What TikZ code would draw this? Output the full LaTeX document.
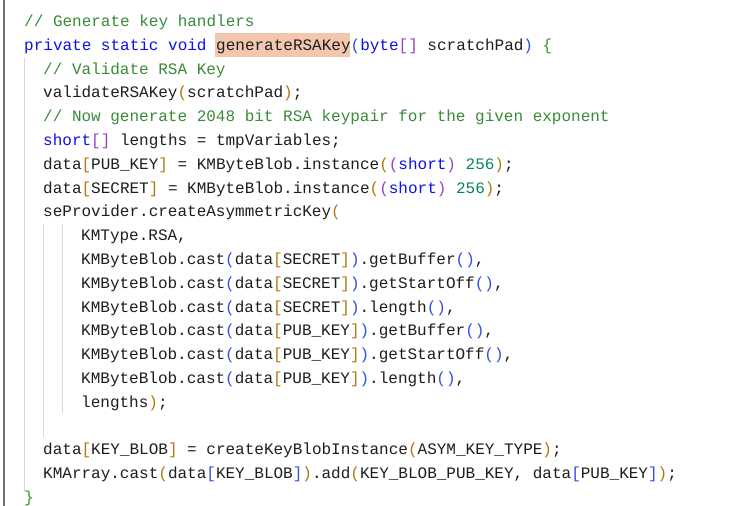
\documentclass[tikz,border=0pt]{standalone}
\usepackage{fontspec}
\setmonofont{Liberation Mono}
\definecolor{cm}{HTML}{3A8A3A}
\definecolor{kw}{HTML}{1010E8}
\definecolor{num}{HTML}{098658}
\definecolor{gold}{HTML}{B07A10}
\definecolor{pur}{HTML}{A040C0}
\definecolor{blu}{HTML}{3050E8}
\definecolor{grn}{HTML}{319331}
\definecolor{txt}{HTML}{1E1E1E}
\definecolor{hl}{HTML}{F3C6AE}
\newcommand\Bgo[1]{\textcolor{gold}{#1}}
\newcommand\Bpu[1]{\textcolor{pur}{#1}}
\newcommand\Bbl[1]{\textcolor{blu}{#1}}
\newcommand\Bgr[1]{\textcolor{grn}{#1}}
\newcommand\Kw[1]{\textcolor{kw}{#1}}
\newcommand\Nm[1]{\textcolor{num}{#1}}
\begin{document}
\begin{tikzpicture}[x=1pt,y=-1pt,
  code/.style={anchor=base west,inner sep=0pt,font=\ttfamily\fontsize{16}{16}\selectfont,text=txt},
  guide/.style={draw=black!15,line width=0.8pt}]
\fill[white] (0,0) rectangle (734,506);
\useasboundingbox (0,0) rectangle (734,506);
\draw[black!55,line width=1.2pt] (4,0) -- (4,506);
\fill[hl] (215,33) rectangle (350,57);
\draw[guide] (24,58) -- (24,492);
\draw[guide] (43,224) -- (43,437);
\draw[guide] (62,224) -- (62,413);
\def\L{26.5}
\node[code] (l0) at (24,26.5) {\textcolor{cm}{// Generate key handlers}};
\node[code] (l1) at (24,50.3) {\Kw{private static void} generateRSAKey\Bbl{(}\Kw{byte}\Bpu{[]} scratchPad\Bbl{)} \Bgr{\{}};
\node[code] (l2) at (43,74.1) {\textcolor{cm}{// Validate RSA Key}};
\node[code] (l3) at (43,97.9) {validateRSAKey\Bgo{(}scratchPad\Bgo{)};};
\node[code] (l4) at (43,121.7) {\textcolor{cm}{// Now generate 2048 bit RSA keypair for the given exponent}};
\node[code] (l5) at (43,145.5) {\Kw{short}\Bpu{[]} lengths = tmpVariables;};
\node[code] (l6) at (43,169.3) {data\Bgo{[}PUB\_KEY\Bgo{]} = KMByteBlob.instance\Bgo{(}\Bpu{(}\Kw{short}\Bpu{)} \Nm{256}\Bgo{)};};
\node[code] (l7) at (43,193.1) {data\Bgo{[}SECRET\Bgo{]} = KMByteBlob.instance\Bgo{(}\Bpu{(}\Kw{short}\Bpu{)} \Nm{256}\Bgo{)};};
\node[code] (l8) at (43,216.9) {seProvider.createAsymmetricKey\Bgo{(}};
\node[code] (l9) at (81,240.7) {KMType.RSA,};
\node[code] (l10) at (81,264.5) {KMByteBlob.cast\Bbl{(}data\Bgo{[}SECRET\Bgo{]}\Bbl{)}.getBuffer\Bbl{()},};
\node[code] (l11) at (81,288.3) {KMByteBlob.cast\Bbl{(}data\Bgo{[}SECRET\Bgo{]}\Bbl{)}.getStartOff\Bbl{()},};
\node[code] (l12) at (81,312.1) {KMByteBlob.cast\Bbl{(}data\Bgo{[}SECRET\Bgo{]}\Bbl{)}.length\Bbl{()},};
\node[code] (l13) at (81,335.9) {KMByteBlob.cast\Bbl{(}data\Bgo{[}PUB\_KEY\Bgo{]}\Bbl{)}.getBuffer\Bbl{()},};
\node[code] (l14) at (81,359.7) {KMByteBlob.cast\Bbl{(}data\Bgo{[}PUB\_KEY\Bgo{]}\Bbl{)}.getStartOff\Bbl{()},};
\node[code] (l15) at (81,383.5) {KMByteBlob.cast\Bbl{(}data\Bgo{[}PUB\_KEY\Bgo{]}\Bbl{)}.length\Bbl{()},};
\node[code] (l16) at (81,407.3) {lengths\Bgo{)};};
\node[code] (l18) at (43,454.9) {data\Bgo{[}KEY\_BLOB\Bgo{]} = createKeyBlobInstance\Bgo{(}ASYM\_KEY\_TYPE\Bgo{)};};
\node[code] (l19) at (43,478.7) {KMArray.cast\Bgo{(}data\Bbl{[}KEY\_BLOB\Bbl{]}\Bgo{)}.add\Bgo{(}KEY\_BLOB\_PUB\_KEY, data\Bbl{[}PUB\_KEY\Bbl{]}\Bgo{)};};
\node[code] (l20) at (24,502.5) {\Bgr{\}}};
\end{tikzpicture}
\end{document}
